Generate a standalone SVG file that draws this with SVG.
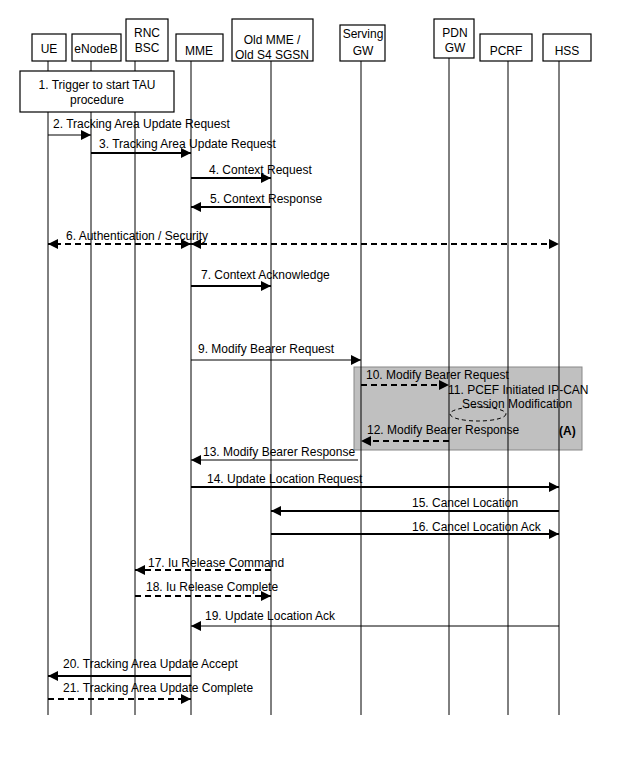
<svg xmlns="http://www.w3.org/2000/svg" width="625" height="775" viewBox="0 0 625 775">
<style>
text{font-family:"Liberation Sans",Arial,sans-serif;font-size:12px;fill:#000}
.c{text-anchor:middle}
.box{fill:#fff;stroke:#000;stroke-width:1.2}
.ll{stroke:#000;stroke-width:1}
.thin{stroke:#000;stroke-width:1;fill:none;marker-end:url(#a)}
.thick{stroke:#000;stroke-width:2;fill:none;marker-end:url(#a)}
.dash{stroke:#000;stroke-width:2;fill:none;stroke-dasharray:6,4;marker-end:url(#a)}
</style>
<defs>
<marker id="a" viewBox="0 0 10 10" refX="10" refY="5" markerWidth="10" markerHeight="10" markerUnits="userSpaceOnUse" orient="auto-start-reverse"><path d="M0,0L10,5L0,10z" fill="#000"/></marker>
</defs>
<rect width="625" height="775" fill="#fff"/>
<rect x="354" y="367" width="228" height="83" fill="#c0c0c0" stroke="#888"/>
<g id="lifelines">
<line class="ll" x1="48" y1="61" x2="48" y2="715"/>
<line class="ll" x1="91" y1="61" x2="91" y2="715"/>
<line class="ll" x1="135" y1="61" x2="135" y2="715"/>
<line class="ll" x1="191" y1="61" x2="191" y2="715"/>
<line class="ll" x1="271" y1="61" x2="271" y2="715"/>
<line class="ll" x1="361" y1="61" x2="361" y2="715"/>
<line class="ll" x1="449" y1="58" x2="449" y2="715"/>
<line class="ll" x1="508" y1="61" x2="508" y2="715"/>
<line class="ll" x1="559" y1="61" x2="559" y2="715"/>
</g>
<g id="UE"><rect class="box" x="32" y="34" width="34" height="27"/><text class="c" x="49" y="53">UE</text></g>
<g id="eNodeB"><rect class="box" x="72" y="34" width="49" height="27"/><text class="c" x="96" y="53">eNodeB</text></g>
<g id="RNC"><rect class="box" x="126" y="19" width="42" height="42"/><text class="c" x="147" y="37">RNC</text><text class="c" x="147" y="52">BSC</text></g>
<g id="MME"><rect class="box" x="176" y="34" width="47" height="27"/><text class="c" x="199" y="55">MME</text></g>
<g id="OldMME"><rect class="box" x="232" y="19" width="81" height="42"/><text class="c" x="272" y="44">Old MME /</text><text class="c" x="272" y="59">Old S4 SGSN</text></g>
<g id="SGW"><rect class="box" x="340" y="25" width="45" height="36"/><text class="c" x="363" y="38">Serving</text><text class="c" x="363" y="55">GW</text></g>
<g id="PDNGW"><rect class="box" x="434" y="19" width="40" height="39"/><text class="c" x="455" y="37">PDN</text><text class="c" x="455" y="52">GW</text></g>
<g id="PCRF"><rect class="box" x="480" y="34" width="52" height="27"/><text class="c" x="506" y="55">PCRF</text></g>
<g id="HSS"><rect class="box" x="543" y="34" width="48" height="27"/><text class="c" x="567" y="55">HSS</text></g>
<g id="trigger"><rect class="box" x="20" y="71" width="154" height="41"/><text class="c" x="97" y="89">1. Trigger to start TAU</text><text class="c" x="97" y="104">procedure</text></g>
<g id="connectors">
<line class="thin" x1="48" y1="135" x2="91" y2="135"/>
<line class="thick" x1="91" y1="153" x2="191" y2="153"/>
<line class="thick" x1="191" y1="178" x2="271" y2="178"/>
<line class="thick" x1="271" y1="207" x2="191" y2="207"/>
<line class="dash" x1="191" y1="244" x2="48" y2="244" marker-start="url(#a)"/>
<line class="dash" x1="191" y1="244" x2="559" y2="244" marker-start="url(#a)"/>
<line class="thick" x1="191" y1="286" x2="271" y2="286"/>
<line class="thin" x1="191" y1="360" x2="361" y2="360"/>
<line class="dash" x1="361" y1="385" x2="449" y2="385"/>
<ellipse cx="478" cy="414" rx="28" ry="7" fill="none" stroke="#000" stroke-dasharray="4,3"/>
<line class="dash" x1="449" y1="441" x2="361" y2="441"/>
<line class="thin" x1="358" y1="460" x2="191" y2="460"/>
<line class="thick" x1="191" y1="487" x2="559" y2="487"/>
<line class="thick" x1="559" y1="511" x2="271" y2="511"/>
<line class="thick" x1="271" y1="534" x2="559" y2="534"/>
<line class="dash" x1="271" y1="570" x2="135" y2="570"/>
<line class="dash" x1="135" y1="596" x2="271" y2="596"/>
<line class="thin" x1="559" y1="626" x2="191" y2="626"/>
<line class="thick" x1="191" y1="676" x2="48" y2="676"/>
<line class="dash" x1="48" y1="699" x2="191" y2="699"/>
</g>
<g id="labels">
<text x="53" y="128">2. Tracking Area Update Request</text>
<text x="99" y="148">3. Tracking Area Update Request</text>
<text x="209" y="174">4. Context Request</text>
<text x="210" y="203">5. Context Response</text>
<text x="66" y="240">6. Authentication / Security</text>
<text x="201" y="279">7. Context Acknowledge</text>
<text x="198" y="353">9. Modify Bearer Request</text>
<text x="366" y="379">10. Modify Bearer Request</text>
<text x="448" y="394" font-size="11">11. PCEF Initiated IP-CAN</text>
<text x="462" y="408" font-size="11">Session Modification</text>
<text x="367" y="434">12. Modify Bearer Response</text>
<text x="559" y="435" font-weight="bold">(A)</text>
<text x="203" y="456">13. Modify Bearer Response</text>
<text x="207" y="483">14. Update Location Request</text>
<text x="412" y="507">15. Cancel Location</text>
<text x="412" y="531">16. Cancel Location Ack</text>
<text x="148" y="567">17. Iu Release Command</text>
<text x="146" y="591">18. Iu Release Complete</text>
<text x="205" y="620">19. Update Location Ack</text>
<text x="63" y="668">20. Tracking Area Update Accept</text>
<text x="63" y="692">21. Tracking Area Update Complete</text>
</g>
</svg>
